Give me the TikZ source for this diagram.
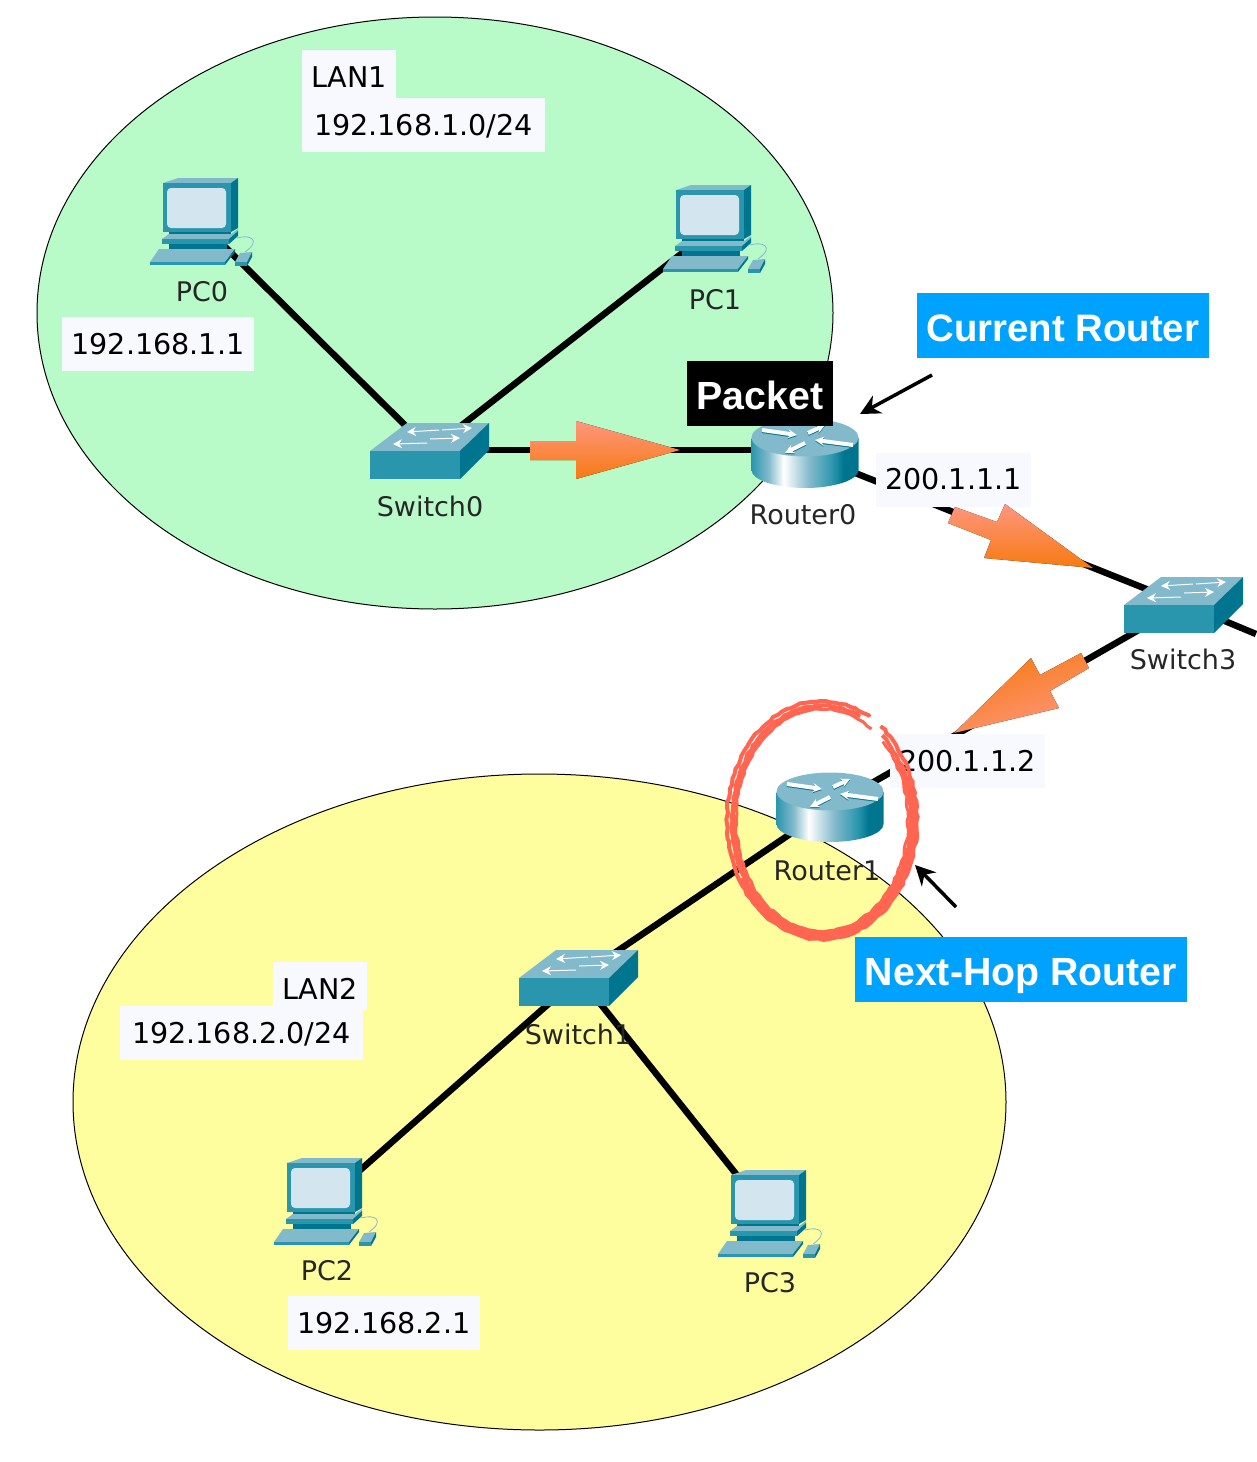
\documentclass[tikz,border=0pt]{standalone}
\usepackage{fontspec}
\setmainfont{DejaVu Sans}
\newfontfamily\tagfont{Liberation Sans}
\usetikzlibrary{arrows.meta,decorations.pathmorphing}

\definecolor{lanone}{HTML}{B9FBC8}
\definecolor{lantwo}{HTML}{FFFE9E}
\definecolor{boxfill}{HTML}{F8F9FF}
\definecolor{tagblue}{HTML}{00A2FF}
\definecolor{ciscolight}{HTML}{83BACB}
\definecolor{ciscomid}{HTML}{2A96AE}
\definecolor{ciscodark}{HTML}{00758F}
\definecolor{ciscoscreen}{HTML}{D3E5EE}
\definecolor{ringred}{HTML}{FF6550}
\definecolor{flowpink}{HTML}{FF9680}
\definecolor{floworange}{HTML}{F67A10}

\pgfdeclarehorizontalshading{routerside}{100bp}{
  color(0bp)=(ciscomid); color(25bp)=(ciscomid); color(33bp)=(ciscolight);
  color(40bp)=(white); color(52bp)=(ciscolight); color(63bp)=(ciscomid);
  color(68bp)=(ciscodark); color(75bp)=(ciscodark); color(100bp)=(ciscodark)}

\tikzset{
  lan/.style={draw=black, line width=1},
  link/.style={draw=black, line width=6.5},
  dev/.style={inner sep=0, minimum size=1},
  devlabel/.style={text=black!85, font=\fontsize{27}{31}\selectfont, inner sep=0},
  ipbox/.style={fill=boxfill, text=black, font=\fontsize{28.6}{33}\selectfont,
    inner sep=0, text height=37, text depth=17, minimum width=#1},
  lanbox/.style={ipbox=#1, text height=37, text depth=11},
  tag/.style={fill=tagblue, text=white, font=\tagfont\bfseries\fontsize{39.3}{44}\selectfont,
    inner sep=0, text height=48, text depth=17, minimum width=#1},
  pointer/.style={draw=black, line width=3.5, -{Stealth[length=20,width=20]}},
  whitearrow/.style={white, line width=#1, -{Stealth[length=9,width=9]}},
  scribble/.style={draw=ringred, line width=#1, decorate,
    decoration={random steps, segment length=5, amplitude=1}},
  pics/pc/.style={code={
    % monitor
    \fill[ciscolight] (-37,-39) -- (-22,-44) -- (38,-44) -- (31,-39) -- cycle;
    \fill[ciscodark] (31,-39) -- (38,-44) -- (38,6) -- (31,10) -- cycle;
    \fill[ciscomid] (-37,-39) rectangle (31,10);
    \fill[ciscoscreen, rounded corners=4] (-33,-34) rectangle (26,6);
    % stand
    \fill[ciscodark] (-31,10) rectangle (31,13);
    \fill[ciscolight] (-38,17) -- (-31,12) -- (31,12) -- (38,7) -- (38,9) -- (29,17) -- cycle;
    \fill[ciscomid] (-38,17) rectangle (29,22);
    \fill[ciscodark] (29,17) -- (38,9) -- (38,14) -- (29,22) -- cycle;
    \fill[ciscodark] (-31,22) rectangle (27,27);
    % keyboard
    \fill[ciscolight] (-50,40) -- (-41,27) -- (35,27) -- (25,40) -- cycle;
    \fill[ciscomid] (-50,40) rectangle (25,43);
    \fill[ciscodark] (25,40) -- (35,27) -- (35,30) -- (25,43) -- cycle;
    % mouse
    \draw[ciscolight, line width=0.8] (37,16) .. controls (50,12) and (62,18) .. (45,30);
    \fill[ciscolight] (35,40) -- (40,31) -- (52,30) -- (47,40) -- cycle;
    \fill[ciscomid] (35,40) rectangle (47,44);
    \fill[ciscodark] (47,40) -- (52,30) -- (52,35) -- (47,44) -- cycle;
  }},
  pics/switch/.style={code={
    \fill[ciscolight] (-60,1) -- (-23,-27) -- (59,-27) -- (30,1) -- cycle;
    \fill[ciscomid] (-60,1) rectangle (30,29);
    \fill[ciscodark] (30,1) -- (59,-27) -- (59,0) -- (30,29) -- cycle;
    % arrows on top
    \draw[whitearrow=1] (9,-20) -- (-23,-18);
    \draw[whitearrow=1] (12,-20) -- (42,-22);
    \draw[whitearrow=1] (-3,-7) -- (-37,-6);
    \draw[whitearrow=1] (0,-11) -- (30,-12);
  }},
  pics/router/.style={code={
    \shade[shading=routerside] (-53.5,-15) -- (-53.5,17) arc[start angle=180, end angle=0, x radius=53.5, y radius=18]
      -- (53.5,-15) -- cycle;
    \fill[ciscolight] (0,-15.5) ellipse[x radius=53.5, y radius=19];
    % arrows on top
    \draw[whitearrow=4, ciscodark] (-43,-22) -- (-8,-17);
    \draw[whitearrow=4] (-43,-23) -- (-8,-18);
    \draw[whitearrow=4, ciscodark] (3,-19) -- (20,-27);
    \draw[whitearrow=4] (3,-20) -- (20,-28);
    \draw[whitearrow=4, ciscodark] (48,-7) -- (10,-12);
    \draw[whitearrow=4] (48,-8) -- (10,-13);
    \draw[whitearrow=4, ciscodark] (0,-9) -- (-20,1);
    \draw[whitearrow=4] (0,-10) -- (-20,0);
  }},
}

\begin{document}
\begin{tikzpicture}[x=1pt, y=-1pt]
    \useasboundingbox (0,0) rectangle (1256,1462);

    % LANs
    \draw[lan, fill=lanone] (435,313) ellipse[x radius=398, y radius=296];
    \draw[lan, fill=lantwo] (539.5,1102) ellipse[x radius=466.5, y radius=328];

    % Devices
    \node[dev] (pc0) at (200,222) {};
    \node[dev] (pc1) at (713,229) {};
    \node[dev] (pc2) at (324,1202) {};
    \node[dev] (pc3) at (768,1214) {};
    \node[dev] (sw0) at (430,450) {};
    \node[dev] (sw1) at (579,977) {};
    \node[dev] (sw3) at (1184,604) {};
    \node[dev] (r0) at (805,453) {};
    \node[dev] (r1) at (830,807) {};
    \coordinate (east) at (1256,634);

    % Links
    \draw[link] (pc0) -- (sw0);
    \draw[link] (pc1) -- (sw0);
    \draw[link] (sw0) -- (sw0 -| r0);
    \draw[link] (r0) -- (sw3);
    \draw[link] (sw3) -- (east);
    \draw[link] (sw3) -- (r1);
    \draw[link] (r1) -- (sw1);
    \draw[link] (sw1) -- (pc2);
    \draw[link] (sw1) -- (pc3);

    % Icons
    \pic at (pc0) {pc};
    \pic at (pc1) {pc};
    \pic at (pc2) {pc};
    \pic at (pc3) {pc};
    \pic at (sw0) {switch};
    \pic at (sw1) {switch};
    \pic at (sw3) {switch};
    \pic at (r0) {router};
    \pic at (r1) {router};

    % Device labels
    \node[devlabel] (lpc0) at (202,292) {PC0};
    \node[devlabel] (lpc1) at (715,300) {PC1};
    \node[devlabel] (lpc2) at (327,1271) {PC2};
    \node[devlabel] (lpc3) at (770,1283) {PC3};
    \node[devlabel] (lsw0) at (430,506) {Switch0};
    \node[devlabel] (lsw1) at (578,1034) {Switch1};
    \node[devlabel] (lsw3) at (1183,659) {Switch3};
    \node[devlabel] (lr0) at (803,515) {Router0};
    \node[devlabel] (lr1) at (827,871) {Router1};

    % Address boxes
    \node[lanbox=94] (lan1) at (349,74) {LAN1};
    \node[ipbox=243] (net1) at (423.5,125) {192.168.1.0/24};
    \node[ipbox=192] (ip0) at (158,344) {192.168.1.1};
    \node[ipbox=155] (wan0) at (953.5,479.5) {200.1.1.1};
    \node[ipbox=155] (wan1) at (967.5,761) {200.1.1.2};
    \node[lanbox=94] (lan2) at (320,986) {LAN2};
    \node[ipbox=243] (net2) at (241.5,1033) {192.168.2.0/24};
    \node[ipbox=192] (ip2) at (384,1323) {192.168.2.1};

    % Flow arrows
    \fill[top color=flowpink, bottom color=floworange] (530,441) -- (576,441) -- (576,421) -- (680,450)
      -- (576,479) -- (576,460) -- (530,460) -- cycle;
    \fill[top color=flowpink, bottom color=floworange] (955,507) -- (997,522) -- (1005,504) -- (1093,568)
      -- (984,558) -- (991,540) -- (948,523) -- cycle;
    \fill[top color=floworange, bottom color=flowpink, shading angle=20] (1081,653) -- (1040,675) -- (1031,658) -- (954,733)
      -- (1059,708) -- (1050,691) -- (1089,668) -- cycle;

    % Tags
    \node[tag=146, fill=black] (packet) at (760,393.5) {Packet};
    \node[tag=292, font=\tagfont\bfseries\fontsize{38.3}{44}\selectfont] (current) at (1063,325.5) {Current Router};
    \node[tag=332] (nexthop) at (1021,969.5) {Next-Hop Router};

    % Pointers
    \coordinate (currentfrom) at (932,375);
    \coordinate (currentto) at (860,414);
    \coordinate (nextfrom) at (956,907);
    \coordinate (nextto) at (915,865);
    \draw[pointer] (currentfrom) -- (currentto);
    \draw[pointer] (nextfrom) -- (nextto);

    % Hand drawn ring
    \coordinate (ringc) at (822,820);
    \foreach \rx/\ry/\w/\b/\e in {95/119/4/52/300, 90/114/4/48/295, 86/111/3/45/305, 91/115/6/22/110, 92/116/5/0/150, 88/113/3/30/270}
        \draw[scribble=\w] (ringc) ++(\b:\rx pt and \ry pt) arc[start angle=-\b, end angle=\e, x radius=\rx, y radius=\ry];

\end{tikzpicture}
\end{document}
